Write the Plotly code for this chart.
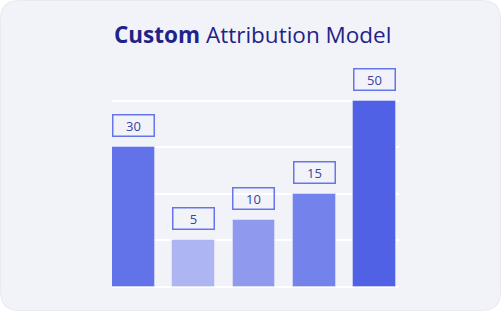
import plotly.graph_objects as go

# Data
categories = ["A", "B", "C", "D", "E"]
bar_heights = [3, 1, 1.43, 2, 4]          # visual heights (grid units)
value_labels = ["30", "5", "10", "15", "50"]
bar_colors = ["#6272E9", "#AEB5F3", "#8F9AEF", "#7482EC", "#5061E6"]
title_bold = "Custom"
title_rest = "Attribution Model"

W, H = 501, 311

def fx(px):
    return px / W

def fy(py):
    return 1 - py / H

fig = go.Figure()
fig.add_trace(go.Bar(
    x=list(range(len(categories))),
    y=bar_heights,
    width=0.705,
    marker=dict(color=bar_colors, line=dict(color="rgba(255,255,255,0.35)", width=1)),
    hoverinfo="skip",
))

for i, (h, lab) in enumerate(zip(bar_heights, value_labels)):
    fig.add_annotation(
        x=i, y=h, xref="x", yref="y", text=lab, showarrow=False,
        yanchor="bottom", yshift=10,
        width=40, height=20, borderpad=0, borderwidth=1.5,
        bordercolor="#6676EA", bgcolor="rgba(0,0,0,0)",
        font=dict(family="Open Sans", size=13, color="#3644A0"),
    )

fig.add_annotation(
    x=fx(252.5), y=fy(35), xref="paper", yref="paper",
    text=f"<b>{title_bold}</b> {title_rest}", showarrow=False,
    xanchor="center", yanchor="middle",
    font=dict(family="Open Sans", size=22.5, color="#1F2388"),
)

# rounded card
x0, y0, x1, y1, r = 0.5, 0.5, 500.5, 310.5, 18
path = (
    f"M {fx(x0 + r)},{fy(y0)} L {fx(x1 - r)},{fy(y0)} "
    f"Q {fx(x1)},{fy(y0)} {fx(x1)},{fy(y0 + r)} "
    f"L {fx(x1)},{fy(y1 - r)} Q {fx(x1)},{fy(y1)} {fx(x1 - r)},{fy(y1)} "
    f"L {fx(x0 + r)},{fy(y1)} Q {fx(x0)},{fy(y1)} {fx(x0)},{fy(y1 - r)} "
    f"L {fx(x0)},{fy(y0 + r)} Q {fx(x0)},{fy(y0)} {fx(x0 + r)},{fy(y0)} Z"
)
fig.add_shape(type="path", path=path, xref="paper", yref="paper",
              fillcolor="#F2F3F9", line=dict(color="#E9EAF1", width=1), layer="below")

grid_px = 46.5
zero_px = 286.7
top_px, bot_px = 60, 290
fig.update_layout(
    width=W, height=H, margin=dict(l=0, r=0, t=0, b=0),
    paper_bgcolor="white", plot_bgcolor="rgba(0,0,0,0)",
    showlegend=False, bargap=0,
    xaxis=dict(domain=[fx(112), fx(399)], range=[-0.353, 4.403],
               showgrid=False, zeroline=False, showticklabels=False, fixedrange=True),
    yaxis=dict(domain=[fy(bot_px), fy(top_px)],
               range=[(zero_px - bot_px) / grid_px, (zero_px - top_px) / grid_px],
               tick0=0, dtick=1, showgrid=True, gridcolor="white", gridwidth=2,
               zeroline=False, showticklabels=False, fixedrange=True),
)

fig.write_html("out.html")
